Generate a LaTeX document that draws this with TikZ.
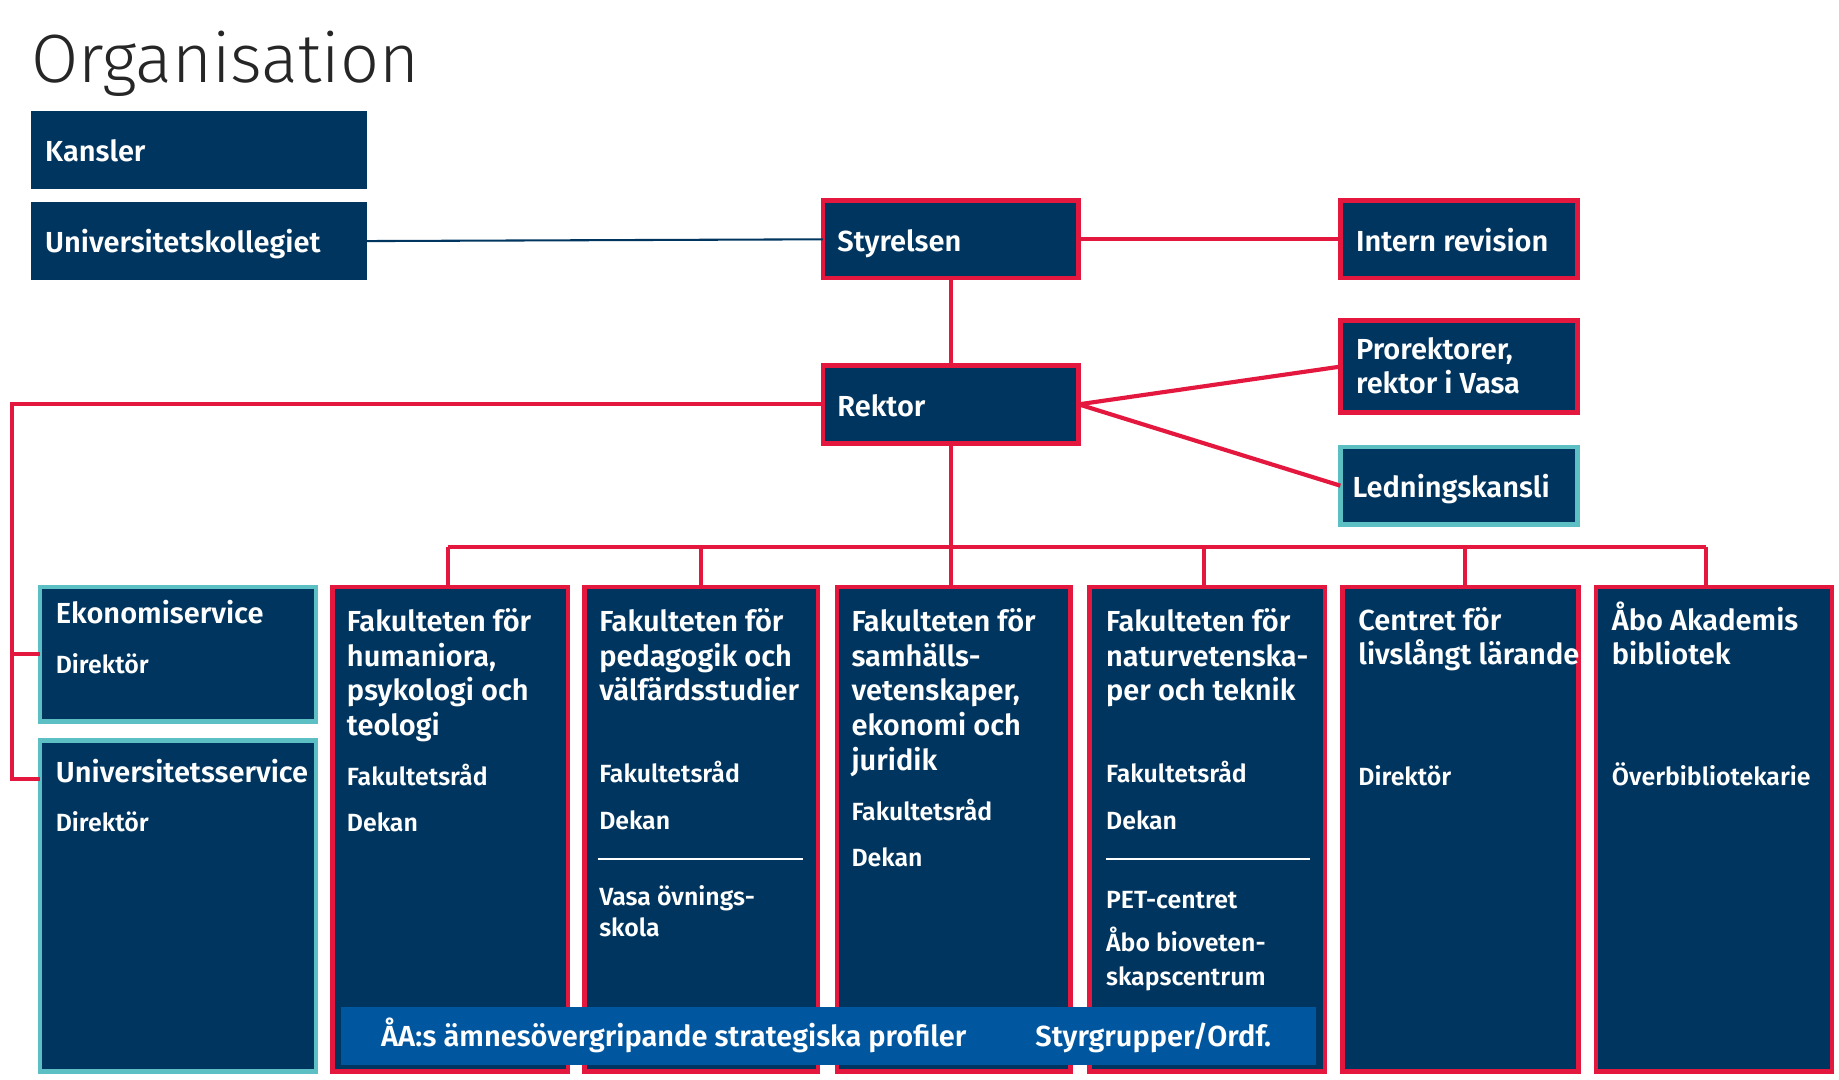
\documentclass[tikz,border=0pt]{standalone}
\usepackage{fontspec}
\setmainfont{Fira Sans}[BoldFont={Fira Sans SemiBold}]
\newfontfamily\titlefont{Fira Sans Light}
\definecolor{navy}{HTML}{00355F}
\definecolor{aared}{HTML}{E4173E}
\definecolor{aateal}{HTML}{5BBFC4}
\definecolor{aablue}{HTML}{0057A0}
\tikzset{
  box/.style={fill=navy, draw=navy, line width=0pt, anchor=north west, inner sep=0pt, outer sep=0pt},
  redbox/.style={box, draw=aared, line width=2.2pt},
  tealbox/.style={box, draw=aateal, line width=2.2pt},
  head/.style={text=white, anchor=base west, inner sep=0pt, font=\bfseries\fontsize{14}{16}\selectfont},
  sub/.style={text=white, anchor=base west, inner sep=0pt, font=\bfseries\fontsize{12}{14}\selectfont},
  link/.style={draw=aared, line width=2pt},
}
\begin{document}
\begin{tikzpicture}[x=0.02cm, y=-0.02cm]
  \useasboundingbox (0,0) rectangle (1560,916);
  \node[anchor=base west, inner sep=0pt, text=black!85, font=\titlefont\fontsize{33}{40}\selectfont] (title) at (26,70) {Organisation};

  % top level
  \node[box, minimum width=284*0.02cm, minimum height=65*0.02cm] (kansler) at (27,95) {};
  \node[head] at (38,137) {Kansler};
  \node[box, minimum width=284*0.02cm, minimum height=65*0.02cm] (kollegiet) at (27,172) {};
  \node[head] at (38,214) {Universitetskollegiet};
  \node[redbox, minimum width=217*0.02cm, minimum height=66*0.02cm] (styrelsen) at (698,170) {};
  \node[head] at (710,213) {Styrelsen};
  \node[redbox, minimum width=201*0.02cm, minimum height=66*0.02cm] (revision) at (1137,170) {};
  \node[head] at (1150,213) {Intern revision};
  \node[redbox, minimum width=217*0.02cm, minimum height=66*0.02cm] (rektor) at (698,310) {};
  \node[head] at (710,353) {Rektor};
  \node[redbox, minimum width=201*0.02cm, minimum height=78*0.02cm] (prorektor) at (1137,272) {};
  \node[head] at (1150,305) {Prorektorer,};
  \node[head] at (1150,334) {rektor i Vasa};
  \node[tealbox, minimum width=201*0.02cm, minimum height=66*0.02cm] (kansli) at (1137,379) {};
  \node[head] at (1147,422) {Ledningskansli};

  % service units
  \node[tealbox, minimum width=234*0.02cm, minimum height=114*0.02cm] (ekonomi) at (34,498) {};
  \node[head] at (47,529) {Ekonomiservice};
  \node[sub] at (47,571) {Direktör};
  \node[tealbox, minimum width=234*0.02cm, minimum height=281*0.02cm] (uniservice) at (34,628) {};
  \node[head] at (47,664) {Universitetsservice};
  \node[sub] at (47,705) {Direktör};

  % faculties
  \foreach \name/\x/\w in {hum/282/200, ped/496/198, sam/710/198, nat/924/200, liv/1139/200, bib/1354/200}
    \node[redbox, minimum width=\w*0.02cm, minimum height=411*0.02cm] (\name) at (\x,498) {};

  \foreach \t [count=\i] in {Fakulteten för, {humaniora,}, psykologi och, teologi}
    \node[head] at (294,506+29.5*\i) {\t};
  \node[sub] at (294,666) {Fakultetsråd};
  \node[sub] at (294,705) {Dekan};

  \foreach \t [count=\i] in {Fakulteten för, pedagogik och, välfärdsstudier}
    \node[head] at (508,506+29.5*\i) {\t};
  \node[sub] at (508,664) {Fakultetsråd};
  \node[sub] at (508,704) {Dekan};
  \draw[white, line width=1pt] (507,729) -- (681,729);
  \node[sub] at (508,768) {Vasa övnings-};
  \node[sub] at (508,794) {skola};

  \foreach \t [count=\i] in {Fakulteten för, samhälls-, {vetenskaper,}, ekonomi och, juridik}
    \node[head] at (722,506+29.5*\i) {\t};
  \node[sub] at (722,696) {Fakultetsråd};
  \node[sub] at (722,735) {Dekan};

  \foreach \t [count=\i] in {Fakulteten för, naturvetenska-, per och teknik}
    \node[head] at (938,506+29.5*\i) {\t};
  \node[sub] at (938,664) {Fakultetsråd};
  \node[sub] at (938,704) {Dekan};
  \draw[white, line width=1pt] (938,729) -- (1111,729);
  \node[sub] at (938,771) {PET-centret};
  \node[sub] at (938,807) {Åbo bioveten-};
  \node[sub] at (938,836) {skapscentrum};

  \node[head] at (1152,535) {Centret för};
  \node[head] at (1152,564) {livslångt lärande};
  \node[sub] at (1152,666) {Direktör};
  \node[head] at (1367,535) {Åbo Akademis};
  \node[head] at (1367,564) {bibliotek};
  \node[sub] at (1367,666) {Överbibliotekarie};

  % profile bar
  \node[box, fill=aablue, draw=aablue, minimum width=826*0.02cm, minimum height=48*0.02cm] (profiler) at (290,855) {};
  \node[head] at (323,888) {ÅA:s ämnesövergripande strategiska profiler};
  \node[head] at (878,888) {Styrgrupper/Ordf.};

  % connectors
  \draw[navy, line width=1pt] (kollegiet.east) -- (styrelsen.west);
  \draw[link] (styrelsen.east) -- (revision.west);
  \draw[link] (styrelsen.south) -- (rektor.north);
  \draw[link] (rektor.east) -- (prorektor.west);
  \draw[link] (rektor.east) -- (kansli.west);
  \coordinate (bend) at (10,0);
  \coordinate (bendlow) at (10,661);
  \draw[link] (rektor.west) -- (bend |- rektor.west) -- (bendlow) -- (bendlow -| uniservice.west);
  \draw[link] (bend |- ekonomi.west) -- (ekonomi.west);
  \coordinate (bus) at (806.5,464);
  \draw[link] (rektor.south) -- (bus);
  \draw[link] (380,464) -- (1447,464);
  \foreach \name/\x in {hum/380, ped/595, sam/806.5, nat/1021, liv/1243, bib/1447}
    \draw[link] (\x,464) -- (\name.north -| \x,0);
\end{tikzpicture}
\end{document}
